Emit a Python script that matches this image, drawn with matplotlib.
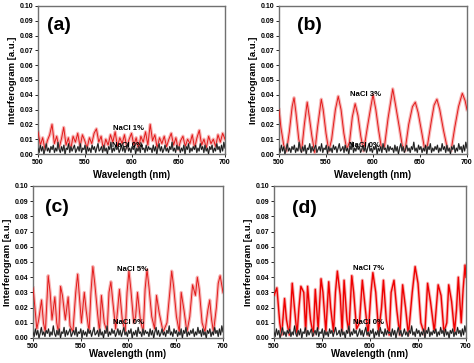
import numpy as np
import matplotlib
matplotlib.use("Agg")
import matplotlib.pyplot as plt

plt.rcParams['font.family'] = ['Liberation Sans', 'DejaVu Sans']
plt.rcParams['font.weight'] = 'bold'

# NaCl 0% reference noise (same in every panel), sampled 500..700 nm
black0 = [0.004, 0.001, 0.006, 0.002, 0.005, 0.000, 0.003, 0.007, 0.002, 0.004,
          0.001, 0.005, 0.003, 0.006, 0.001, 0.004, 0.002, 0.008, 0.003, 0.001,
          0.005, 0.002, 0.006, 0.000, 0.004, 0.003, 0.007, 0.001, 0.005, 0.002,
          0.004, 0.006, 0.001, 0.003, 0.005, 0.002, 0.007, 0.001, 0.004, 0.003,
          0.006, 0.000, 0.005, 0.002, 0.004, 0.001, 0.006, 0.003, 0.005, 0.001,
          0.004, 0.007, 0.002, 0.003, 0.005, 0.001, 0.006, 0.002, 0.004, 0.000,
          0.005, 0.003, 0.008, 0.001, 0.004, 0.002, 0.006, 0.003, 0.005, 0.001,
          0.003, 0.006, 0.002, 0.005, 0.001, 0.004, 0.007, 0.002, 0.004, 0.001,
          0.005, 0.003, 0.006, 0.000, 0.004, 0.002, 0.005, 0.001, 0.007, 0.003,
          0.004, 0.001, 0.006, 0.002, 0.005, 0.003, 0.004, 0.001, 0.006, 0.002,
          0.005, 0.000, 0.004, 0.007, 0.002, 0.005, 0.001, 0.003, 0.006, 0.002,
          0.004, 0.001, 0.005, 0.003, 0.008, 0.002, 0.004, 0.001, 0.006, 0.003,
          0.005, 0.001, 0.004, 0.002, 0.006, 0.000, 0.005, 0.003, 0.007, 0.001,
          0.004, 0.002, 0.005, 0.003, 0.006, 0.001, 0.004, 0.002, 0.007, 0.003,
          0.005, 0.001, 0.006, 0.002, 0.004, 0.000, 0.005, 0.003, 0.006, 0.001,
          0.004, 0.002, 0.007, 0.003, 0.005, 0.001, 0.006, 0.002, 0.008, 0.004]

# NaCl 1%
red_a = [0.015, 0.006, 0.011, 0.003, 0.009, 0.013, 0.020, 0.007, 0.012, 0.004,
         0.010, 0.018, 0.006, 0.011, 0.003, 0.012, 0.008, 0.014, 0.005, 0.013,
         0.009, 0.004, 0.011, 0.007, 0.014, 0.017, 0.008, 0.012, 0.003, 0.010,
         0.006, 0.013, 0.008, 0.015, 0.005, 0.011, 0.007, 0.013, 0.004, 0.010,
         0.014, 0.006, 0.011, 0.003, 0.012, 0.008, 0.015, 0.006, 0.020, 0.009,
         0.013, 0.004, 0.011, 0.007, 0.012, 0.005, 0.010, 0.014, 0.006, 0.011,
         0.003, 0.009, 0.012, 0.005, 0.010, 0.007, 0.013, 0.004, 0.011, 0.016,
         0.006, 0.010, 0.004, 0.012, 0.007, 0.010, 0.005, 0.013, 0.008, 0.014,
         0.010]

# NaCl 3%
wl_b = [500, 502, 505, 508, 511, 514, 516, 518, 521, 524, 527, 530, 532, 535,
        538, 541, 545, 547, 550, 553, 556, 560, 563, 566, 569, 572, 575, 578,
        581, 584, 587, 590, 594, 598, 600, 603, 606, 609, 612, 616, 619, 621,
        624, 628, 631, 634, 638, 642, 645, 648, 652, 655, 658, 662, 665, 668,
        671, 675, 679, 683, 687, 691, 695, 698, 700]
red_b = [0.030, 0.018, 0.006, 0.002, 0.015, 0.032, 0.038, 0.028, 0.010, 0.002,
         0.020, 0.035, 0.026, 0.012, 0.001, 0.018, 0.037, 0.030, 0.014, 0.002,
         0.010, 0.030, 0.039, 0.030, 0.014, 0.003, 0.008, 0.025, 0.034, 0.026,
         0.012, 0.002, 0.018, 0.033, 0.040, 0.030, 0.016, 0.004, 0.004, 0.024,
         0.036, 0.044, 0.033, 0.018, 0.006, 0.002, 0.020, 0.032, 0.035, 0.028,
         0.014, 0.003, 0.006, 0.022, 0.033, 0.037, 0.030, 0.016, 0.004, 0.002,
         0.018, 0.032, 0.041, 0.036, 0.030]

# NaCl 5%
wl_c = [500, 502, 504, 506, 509, 511, 513, 516, 518, 520, 523, 525, 527, 529,
        531, 534, 537, 539, 542, 545, 547, 549, 551, 554, 556, 559, 561, 563,
        565, 568, 570, 572, 575, 578, 580, 582, 584, 587, 589, 591, 594, 597,
        599, 601, 603, 606, 608, 610, 613, 616, 618, 620, 622, 625, 628, 630,
        633, 637, 641, 644, 646, 648, 651, 654, 656, 659, 662, 665, 668, 671,
        673, 675, 678, 681, 684, 686, 688, 690, 693, 695, 697, 700]
red_c = [0.033, 0.020, 0.006, 0.012, 0.025, 0.010, 0.004, 0.041, 0.030, 0.012,
         0.027, 0.010, 0.003, 0.034, 0.028, 0.012, 0.027, 0.008, 0.004, 0.030,
         0.042, 0.026, 0.010, 0.030, 0.018, 0.004, 0.030, 0.047, 0.036, 0.016,
         0.004, 0.028, 0.010, 0.004, 0.030, 0.037, 0.024, 0.006, 0.018, 0.032,
         0.012, 0.004, 0.030, 0.044, 0.032, 0.010, 0.014, 0.030, 0.012, 0.004,
         0.032, 0.045, 0.034, 0.014, 0.006, 0.028, 0.016, 0.004, 0.010, 0.030,
         0.044, 0.034, 0.014, 0.004, 0.030, 0.018, 0.004, 0.014, 0.035, 0.028,
         0.040, 0.032, 0.010, 0.004, 0.018, 0.025, 0.012, 0.004, 0.020, 0.036,
         0.041, 0.030]

# NaCl 7%
wl_d = [500, 503, 506, 508, 511, 513, 516, 519, 521, 524, 526, 528, 531, 533,
        535, 538, 541, 543, 546, 549, 551, 554, 557, 559, 562, 564, 566, 569,
        571, 573, 576, 578, 581, 583, 586, 589, 592, 595, 598, 601, 603, 606,
        609, 612, 614, 617, 620, 622, 625, 628, 631, 634, 637, 640, 644, 647,
        650, 653, 657, 660, 663, 667, 671, 674, 677, 680, 682, 685, 688, 690,
        692, 695, 697, 699, 700]
red_d = [0.028, 0.033, 0.010, 0.002, 0.026, 0.012, 0.002, 0.036, 0.022, 0.002,
         0.020, 0.034, 0.030, 0.004, 0.034, 0.012, 0.002, 0.032, 0.006, 0.039,
         0.030, 0.004, 0.037, 0.020, 0.004, 0.030, 0.044, 0.028, 0.004, 0.038,
         0.012, 0.004, 0.041, 0.030, 0.006, 0.010, 0.038, 0.020, 0.002, 0.030,
         0.043, 0.030, 0.004, 0.020, 0.038, 0.012, 0.002, 0.030, 0.038, 0.018,
         0.002, 0.035, 0.020, 0.002, 0.030, 0.047, 0.036, 0.010, 0.002, 0.036,
         0.024, 0.004, 0.035, 0.028, 0.004, 0.010, 0.035, 0.024, 0.004, 0.018,
         0.040, 0.010, 0.032, 0.048, 0.040]

panels = [
    ("(a)", None, red_a, "NaCl 1%", (580, 0.017), (579, 0.0055), (510, 0.087)),
    ("(b)", wl_b, red_b, "NaCl 3%", (576, 0.0405), (574, 0.0058), (519, 0.087)),
    ("(c)", wl_c, red_c, "NaCl 5%", (588, 0.045), (584, 0.010), (513, 0.086)),
    ("(d)", wl_d, red_d, "NaCl 7%", (582, 0.046), (582, 0.010), (519, 0.085)),
]
# axes boxes in pixels: left, top, right, bottom
boxes = [(38, 6, 225, 154), (279, 6, 467, 154), (33, 186, 223, 338), (274, 186, 466, 338)]

W, H = 474, 363
fig = plt.figure(figsize=(W / 100, H / 100), dpi=100)

for i, ((letter, wl, red, lab, lab_pos, lab0_pos, let_pos), (l, t, r, b)) in enumerate(zip(panels, boxes)):
    ax = fig.add_axes([l / W, 1 - b / H, (r - l) / W, (b - t) / H])
    xb = np.linspace(500, 700, len(black0))
    if wl is None:
        wl = np.linspace(500, 700, len(red))
    # fuzzy pink halo + red core like the noisy measured trace
    ax.plot(wl, red, color='#f5a3a3', lw=2.4, alpha=0.8, zorder=2)
    ax.plot(wl, red, color='#e31a1a' if i < 3 else '#ee0000', lw=0.7 if i < 3 else 1.0, zorder=3)
    ax.plot(xb, black0, color='#777777', lw=1.0, zorder=4)
    ax.plot(xb, black0, color='#111111', lw=0.5, zorder=5)
    ax.set_xlim(500, 700)
    ax.set_ylim(0, 0.10)
    ax.set_xticks([500, 550, 600, 650, 700])
    ax.set_yticks(np.arange(0, 0.101, 0.01))
    ax.yaxis.set_major_formatter(plt.FormatStrFormatter('%.2f'))
    ax.tick_params(labelsize=5, length=2, width=0.6, pad=1.5)
    for lb in ax.get_xticklabels() + ax.get_yticklabels():
        lb.set_fontweight('bold')
    for s in ax.spines.values():
        s.set_color('#707070')
        s.set_linewidth(1.0)
    ax.set_xlabel('Wavelength (nm)', fontsize=6.9, fontweight='bold', labelpad=3 if i < 2 else -0.5)
    ax.set_ylabel('Interferogram [a.u.]', fontsize=6.8, fontweight='bold', labelpad=2)
    ax.text(let_pos[0], let_pos[1], letter, fontsize=14, fontweight='bold', va='center', ha='left')
    ax.text(lab_pos[0], lab_pos[1], lab, fontsize=5.6, fontweight='bold', va='center', ha='left', zorder=6)
    ax.text(lab0_pos[0], lab0_pos[1], 'NaCl 0%', fontsize=5.6, fontweight='bold', va='center', ha='left', zorder=6)

fig.savefig('out.png', dpi=100)
